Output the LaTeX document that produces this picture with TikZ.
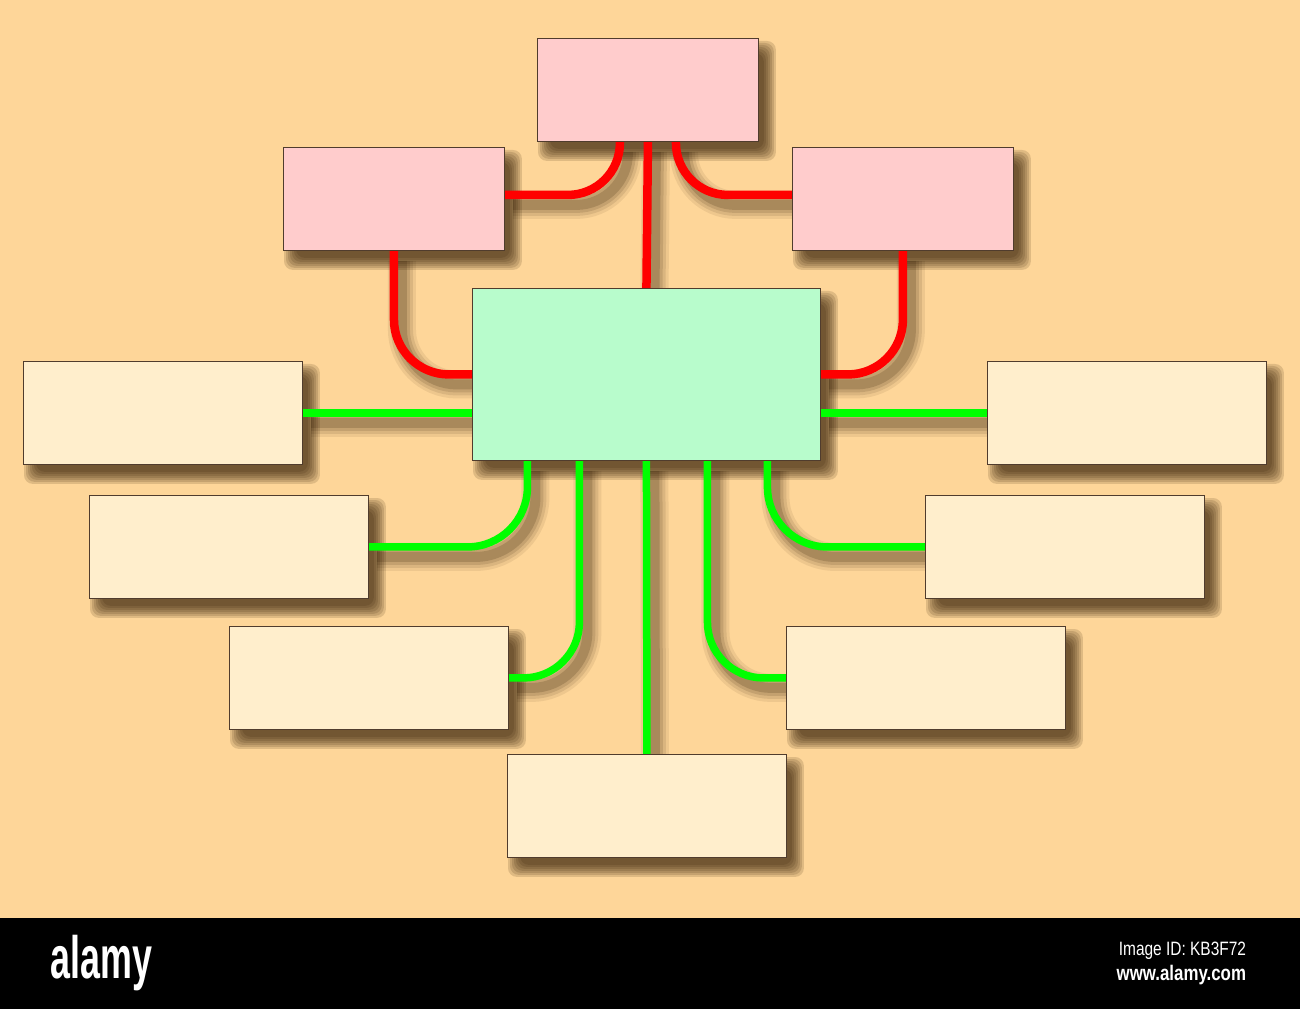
\documentclass[tikz,border=0pt]{standalone}
\usepackage{fontspec}
\usetikzlibrary{calc}
\newfontfamily\barfont{Liberation Sans}

\definecolor{peach}{RGB}{254,214,153}
\definecolor{boxpink}{RGB}{255,204,204}
\definecolor{boxmint}{RGB}{184,252,204}
\definecolor{boxcream}{RGB}{255,238,204}
\definecolor{boxedge}{RGB}{80,60,45}
\definecolor{wirered}{RGB}{255,0,0}
\definecolor{wiregreen}{RGB}{0,255,0}
\definecolor{shadebrown}{RGB}{50,28,5}

\pgfdeclarelayer{back}
\pgfdeclarelayer{shade}
\pgfdeclarelayer{wires}
\pgfsetlayers{back,shade,wires,main}

\tikzset{
  card/.style={draw=boxedge, line width=0.5pt, anchor=north west, inner sep=0pt},
  pinkcard/.style={card, fill=boxpink, minimum width=4.42cm, minimum height=2.06cm},
  mintcard/.style={card, fill=boxmint, minimum width=6.96cm, minimum height=3.44cm},
  creamcard/.style={card, fill=boxcream, minimum width=5.58cm, minimum height=2.06cm},
  redwire/.style={draw=wirered, line width=0.17cm},
  greenwire/.style={draw=wiregreen, line width=0.15cm},
  haze/.style={fill=shadebrown, opacity=0.15},
}

% every connector, drawn with red style #1 and green style #2
\newcommand{\allwires}[2]{%
  \draw[#1] (top.south) -- (centre.north);
  \draw[#1, rounded corners=1.04cm] ($(top.south)+(-28,0)$) |- ($(lpink.east)+(0,-4)$);
  \draw[#1, rounded corners=1.04cm] ($(top.south)+(28,0)$) |- ($(rpink.west)+(0,-4)$);
  \draw[#1, rounded corners=1.1cm] (lpink.south) |- (centre.west);
  \draw[#1, rounded corners=1.1cm] (rpink.south) |- (centre.east);
  \draw[#2] (lcream1.east -| centre.west) -- (lcream1.east);
  \draw[#2] (rcream1.west -| centre.east) -- (rcream1.west);
  \draw[#2, rounded corners=1.2cm] ($(centre.south)+(-119,0)$) |- (lcream2.east);
  \draw[#2, rounded corners=1.12cm] ($(centre.south)+(-67,0)$) |- (lcream3.east);
  \draw[#2] (centre.south) -- (bottom.north);
  \draw[#2, rounded corners=1.12cm] ($(centre.south)+(61,0)$) |- (rcream3.west);
  \draw[#2, rounded corners=1.2cm] ($(centre.south)+(121,0)$) |- (rcream2.west);
}

\begin{document}
\begin{tikzpicture}[x=0.2mm, y=-0.2mm]
  \useasboundingbox (0,0) rectangle (1300,1009);
  \begin{pgfonlayer}{back}
    \fill[peach] (0,0) rectangle (1300,918);
    \fill[black] (0,918) rectangle (1300,1009);
  \end{pgfonlayer}

  % boxes
  \node[pinkcard] (top) at (537,38) {};
  \node[pinkcard] (lpink) at (283,147) {};
  \node[pinkcard] (rpink) at (792,147) {};
  \node[mintcard] (centre) at (472,288) {};
  \node[creamcard] (lcream1) at (23,361) {};
  \node[creamcard] (rcream1) at (987,361) {};
  \node[creamcard] (lcream2) at (89,495) {};
  \node[creamcard] (rcream2) at (925,495) {};
  \node[creamcard] (lcream3) at (229,626) {};
  \node[creamcard] (rcream3) at (786,626) {};
  \node[creamcard] (bottom) at (507,754) {};

  % soft shadows under the boxes
  \begin{pgfonlayer}{shade}
    \foreach \n in {top,lpink,rpink,centre,lcream1,rcream1,lcream2,rcream2,lcream3,rcream3,bottom}
      \foreach \s in {-8,-6,...,4}
        \fill[haze, rounded corners=5pt] ($(\n.north west)+(9+\s,11+\s)$) rectangle ($(\n.south east)+(9-\s,11-\s)$);
  \end{pgfonlayer}

  \begin{pgfonlayer}{wires}
    \begin{scope}[transform canvas={xshift=1.6mm, yshift=-2mm}]
      \foreach \w/\o in {0.56/0.08, 0.44/0.1, 0.32/0.13, 0.2/0.18} {
        \allwires{draw=shadebrown, line width=\w cm, opacity=\o}{draw=shadebrown, line width=\w cm, opacity=\o}
      }
    \end{scope}
    \allwires{redwire}{greenwire}
  \end{pgfonlayer}

  % footer bar
  \node[text=white, font=\barfont\bfseries\fontsize{34}{34}\selectfont, xscale=0.6, anchor=west] (brand) at (47,963) {alamy};
  \node[text=white, font=\barfont\fontsize{11}{11}\selectfont, xscale=0.8, anchor=east] (imgid) at (1251,951) {Image ID: KB3F72};
  \node[text=white, font=\barfont\bfseries\fontsize{12}{12}\selectfont, xscale=0.8, anchor=east] (site) at (1251,975) {www.alamy.com};
\end{tikzpicture}
\end{document}
